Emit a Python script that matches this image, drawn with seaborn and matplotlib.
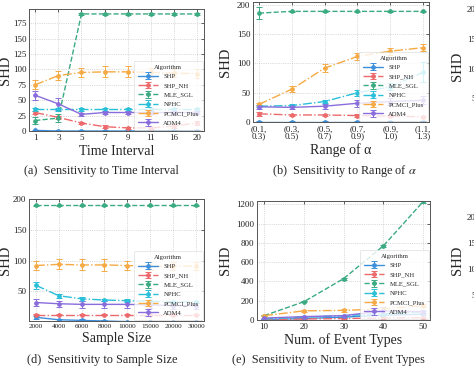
import numpy as np
import seaborn as sns
import matplotlib
matplotlib.use('Agg')
from matplotlib import pyplot as plt

sns.set_style('white')
plt.rcParams['font.family'] = ['Liberation Serif', 'DejaVu Serif']
plt.rcParams['mathtext.fontset'] = 'stix'

# algorithms and styles
algos = ['SHP', 'SHP_NH', 'MLE_SGL', 'NPHC', 'PCMCI_Plus', 'ADM4']
colors = ['#3d8fdc', '#ec6a6c', '#3bab82', '#29bfd9', '#f5aa45', '#8a6ddc']
lstyles = ['-', '-.', '--', '-.', '-.', '-']

# (a) time interval
t_labels = ['1', '3', '5', '7', '9', '11', '16', '20']
t_shp = [1, 0, 0, 0, 0, 0, 0, 0]
t_shp_nh = [30, 22, 13, 7, 5, 5, 8, 13]
t_mle = [17, 21, 190, 190, 190, 190, 190, 190]
t_nphc = [35, 35, 35, 35, 35, 35, 35, 35]
t_pcmci = [75, 90, 95, 96, 96, 95, 94, 93]
t_adm4 = [58, 44, 27, 30, 30, 30, 30, 30]
t_err = [[1, 1, 1, 1, 1, 1, 1, 1],
         [3, 3, 2, 2, 2, 2, 3, 3],
         [6, 6, 1, 1, 1, 1, 1, 1],
         [2, 2, 2, 2, 2, 2, 2, 2],
         [7, 7, 8, 9, 9, 8, 7, 7],
         [7, 10, 3, 2, 2, 2, 2, 2]]

# (b) range of alpha
r_labels = ['(0.1,\n0.3)', '(0.3,\n0.5)', '(0.5,\n0.7)', '(0.7,\n0.9)', '(0.9,\n1.0)', '(1.1,\n1.3)']
r_shp = [0, 0, 0, 0, 0, 0]
r_shp_nh = [14, 12, 12, 11, 10, 9]
r_mle = [186, 189, 189, 189, 189, 189]
r_nphc = [27, 28, 35, 50, 60, 85]
r_pcmci = [30, 56, 92, 112, 121, 127]
r_adm4 = [26, 25, 27, 32, 35, 37]
r_err = [[1, 1, 1, 1, 1, 1],
         [3, 2, 2, 2, 2, 2],
         [10, 1, 1, 1, 1, 1],
         [2, 3, 3, 5, 6, 17],
         [3, 5, 7, 6, 6, 6],
         [3, 3, 4, 6, 6, 7]]

# (d) sample size
s_labels = ['2000', '4000', '6000', '8000', '10000', '15000', '20000', '30000']
s_shp = [8, 4, 3, 2, 1, 1, 1, 1]
s_shp_nh = [12, 12, 12, 12, 12, 12, 12, 12]
s_mle = [190, 190, 190, 190, 190, 190, 190, 190]
s_nphc = [60, 43, 38, 36, 35, 34, 33, 33]
s_pcmci = [92, 94, 93, 93, 92, 91, 91, 91]
s_adm4 = [32, 30, 29, 29, 29, 28, 27, 27]
s_err = [[2, 2, 2, 1, 1, 1, 1, 1],
         [1, 1, 1, 1, 1, 1, 1, 1],
         [1, 1, 1, 1, 1, 1, 1, 1],
         [6, 3, 3, 2, 2, 2, 2, 2],
         [8, 8, 9, 10, 7, 7, 7, 7],
         [6, 5, 6, 6, 6, 5, 5, 5]]

# (e) number of event types
e_x = [10, 20, 30, 40, 50]
e_shp = [5, 15, 30, 50, 60]
e_shp_nh = [5, 10, 15, 20, 25]
e_mle = [45, 190, 430, 770, 1230]
e_nphc = [10, 30, 45, 65, 85]
e_pcmci = [45, 95, 100, 115, 150]
e_adm4 = [20, 35, 45, 95, 85]
e_err = [[3, 5, 6, 8, 10],
         [2, 4, 5, 6, 8],
         [5, 8, 10, 12, 15],
         [3, 6, 8, 10, 12],
         [8, 10, 12, 15, 20],
         [5, 8, 10, 40, 15]]

W, H = 474, 366
fig = plt.figure(figsize=(W / 100, H / 100), dpi=100)


def px_axes(left, top, right, bottom):
    return fig.add_axes([left / W, 1 - bottom / H, (right - left) / W, (bottom - top) / H])


def style_axes(ax, label_x=None):
    ax.tick_params(direction='in', top=True, right=True, labelsize=6.5,
                   length=2, width=0.5, pad=2, colors='#222222')
    for sp in ax.spines.values():
        sp.set_color('#555555')
        sp.set_linewidth(0.7)
    ax.grid(True, linestyle=':', linewidth=0.5, color='#bbbbbb')
    ax.set_ylabel('SHD', fontsize=10.5, labelpad=2)
    if label_x is not None:
        ax.yaxis.set_label_coords(label_x, 0.5)


def draw_series(ax, x, series, errs):
    for name, ys, er, c, ls in zip(algos, series, errs, colors, lstyles):
        ax.errorbar(x, ys, yerr=er, label=name, color=c, linestyle=ls,
                    linewidth=1.0, marker='o', markersize=2.4, capsize=2.2,
                    elinewidth=0.7, capthick=0.7)
    leg = ax.legend(title='Algorithm', loc='lower right', fontsize=4.8,
                    title_fontsize=4.8, frameon=True, borderaxespad=0.2,
                    handlelength=3, labelspacing=0.55, borderpad=0.6)
    leg.get_frame().set_linewidth(0.4)
    leg.get_frame().set_edgecolor('#cccccc')


# (a)
ax = px_axes(29, 9, 204, 131)
style_axes(ax, label_x=-0.1)
draw_series(ax, np.arange(len(t_labels)),
            [t_shp, t_shp_nh, t_mle, t_nphc, t_pcmci, t_adm4], t_err)
ax.set_xticks(np.arange(len(t_labels)))
ax.set_xticklabels(t_labels)
ax.set_xlim(-0.27, 7.3)
ax.set_ylim(0, 198)
ax.set_yticks(np.arange(0, 176, 25))
ax.set_xlabel('Time Interval', fontsize=10, labelpad=2)

# (b)
ax = px_axes(253, 2, 429, 122)
style_axes(ax, label_x=-0.12)
draw_series(ax, np.arange(len(r_labels)),
            [r_shp, r_shp_nh, r_mle, r_nphc, r_pcmci, r_adm4], r_err)
ax.set_xticks(np.arange(len(r_labels)))
ax.set_xticklabels(r_labels, linespacing=0.9)
ax.set_xlim(-0.18, 5.18)
ax.set_ylim(0, 205)
ax.set_yticks(np.arange(0, 201, 50))
ax.set_xlabel('Range of α', fontsize=10, labelpad=2)

# (c) partially visible
ax = px_axes(483, 2, 650, 131)
style_axes(ax)
ax.set_ylim(-5, 212)
ax.set_yticks(np.arange(0, 201, 50))

# (d)
ax = px_axes(29, 199, 204, 321)
style_axes(ax, label_x=-0.1)
draw_series(ax, np.arange(len(s_labels)),
            [s_shp, s_shp_nh, s_mle, s_nphc, s_pcmci, s_adm4], s_err)
ax.set_xticks(np.arange(len(s_labels)))
ax.set_xticklabels(s_labels, fontsize=5.2)
ax.set_xlim(-0.3, 7.35)
ax.set_ylim(2, 200)
ax.set_yticks([50, 100, 150, 200])
ax.set_xlabel('Sample Size', fontsize=10, labelpad=2)

# (e)
ax = px_axes(257, 201, 430, 320)
style_axes(ax, label_x=-0.145)
draw_series(ax, e_x, [e_shp, e_shp_nh, e_mle, e_nphc, e_pcmci, e_adm4], e_err)
ax.set_xticks(e_x)
ax.set_xlim(8.2, 51.7)
ax.set_ylim(0, 1235)
ax.set_yticks(np.arange(0, 1201, 200))
ax.set_xlabel('Num. of Event Types', fontsize=10, labelpad=2)

# (f) partially visible
ax = px_axes(483, 201, 650, 320)
style_axes(ax)
ax.set_ylim(3, 230)
ax.set_yticks(np.arange(50, 201, 50))

# captions
fig.text(101 / W, 1 - 171 / H, '(a)  Sensitivity to Time Interval', ha='center', va='center', fontsize=8.8)
fig.text(344 / W, 1 - 171 / H, '(b)  Sensitivity to Range of $\\alpha$', ha='center', va='center', fontsize=8.8)
fig.text(102 / W, 1 - 360 / H, '(d)  Sensitivity to Sample Size', ha='center', va='center', fontsize=8.8)
fig.text(328 / W, 1 - 360 / H, '(e)  Sensitivity to Num. of Event Types', ha='center', va='center', fontsize=8.8)

fig.savefig('out.png', dpi=100)
